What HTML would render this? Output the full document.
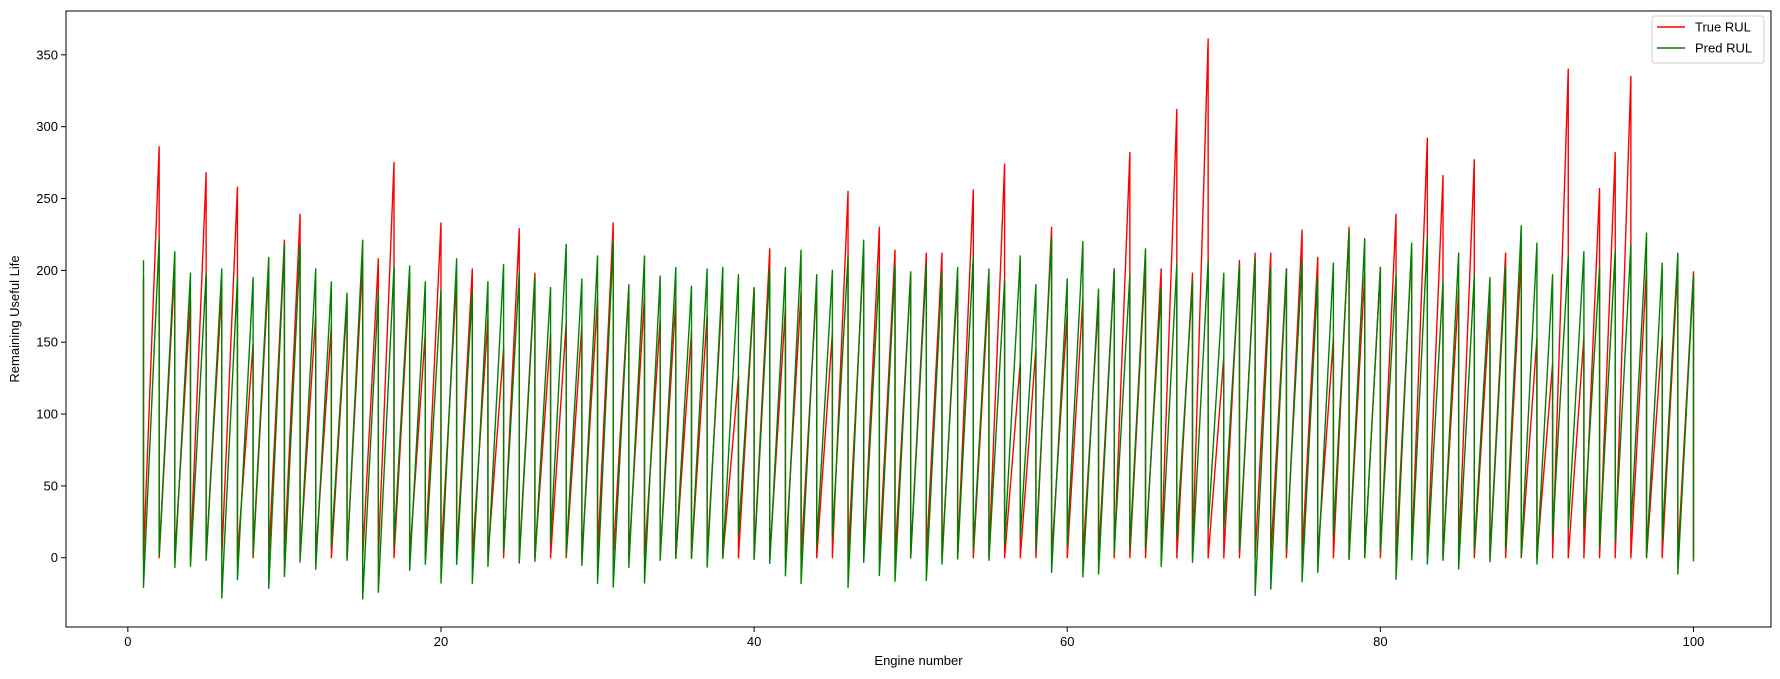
<!DOCTYPE html>
<html><head><meta charset="utf-8"><style>
body{margin:0;background:#fff;}
svg{display:block;font-family:"Liberation Sans","DejaVu Sans",sans-serif;}
</style></head><body>
<svg id="chart" width="1780" height="679"></svg>
<script>
const engines=[];for(let i=1;i<=100;i++)engines.push(i);
const trueMax=[195,286,203,179,268,187,258,149,201,221,239,169,162,179,206,208,275,194,157,233,
194,201,167,146,229,198,155,164,162,181,233,190,183,166,180,157,169,192,126,187,
215,174,185,190,157,255,213,230,214,197,212,212,194,256,192,274,136,146,230,171,
181,179,201,282,208,201,312,198,361,140,207,212,212,201,228,209,153,230,198,202,
239,215,292,266,187,277,177,212,211,153,135,340,154,257,282,335,201,155,205,199];
const predMax=[207,222,213,198,198,201,195,195,209,218,218,201,192,184,221,186,203,203,192,186,
208,185,192,204,199,195,188,218,194,210,220,189,210,196,202,189,201,202,197,188,
201,202,214,197,200,210,221,202,203,199,204,199,202,210,201,193,210,190,223,194,
220,187,201,197,215,187,205,192,207,198,204,208,201,201,207,195,205,227,222,202,
197,219,223,192,212,197,195,203,231,219,197,210,213,202,214,218,226,205,212,197];
const predMin=[-20.6,1.4,-6.7,-6,-1.8,-28,-15.3,2.6,-21.3,-13,-3,-8,7.6,-1.8,-28.7,-24,8.3,-8.8,-4.6,-17.6,
-4.6,-17.8,-6,4.4,-3.7,-2.5,10.7,2.6,-5.3,-17.8,-20.4,-6.7,-17.6,-1.8,-0.5,-0.5,-6.5,-0.5,15.3,-1.2,
-3.9,-12.5,-18,8.3,14.1,-20.6,-3.2,-12.3,-16.4,-0.2,-15.7,-4.4,-0.9,5.3,-1.8,9.5,14.1,6,-10.2,8.3,
-13.2,-11.3,3.7,6,6,-6,14.1,-3.2,20,20,5.3,-26.2,-21.8,6,-16.7,-10.2,15.3,-1.2,0.2,4.9,
-15,-1.4,-4.4,-1.8,-7.9,5.3,-2.8,6,0.7,-4.4,15,20,20,7.6,11.3,20,0.2,12.3,-11.3,-2.5];
const trueMin=engines.map(()=>0);
const xTicks=[0,20,40,60,80,100];
const yTicks=[0,50,100,150,200,250,300,350];

const L=66,R=1771,T=11,B=627;
const xmin=-3.95,xmax=104.95,ymin=-48.2,ymax=380.5;
const X=v=>L+(v-xmin)/(xmax-xmin)*(R-L);
const Y=v=>B-(v-ymin)/(ymax-ymin)*(B-T);
const NS="http://www.w3.org/2000/svg";
const svg=document.getElementById('chart');
function mk(tag,attrs,parent){const e=document.createElementNS(NS,tag);for(const k in attrs)e.setAttribute(k,attrs[k]);(parent||svg).appendChild(e);return e;}

function pathFor(maxA,minA){let d='';engines.forEach((e,i)=>{d+=(i?'L':'M')+X(e).toFixed(2)+','+Y(maxA[i]).toFixed(2)+'L'+X(e).toFixed(2)+','+Y(minA[i]).toFixed(2);});return d;}
const tp=mk('path',{d:pathFor(trueMax,trueMin),fill:'none',stroke:'#ff0000','stroke-width':1.4,'stroke-linejoin':'round'});


const pp=mk('path',{d:pathFor(predMax,predMin),fill:'none',stroke:'#008000','stroke-width':1.4,'stroke-linejoin':'round'});



const frame=mk('rect',{x:L,y:T,width:R-L,height:B-T,fill:'none',stroke:'#000','stroke-width':1});



xTicks.forEach(t=>{
  const x=X(t);
  const tk=mk('line',{x1:x,x2:x,y1:B,y2:B+5,stroke:'#000','stroke-width':1});
  
  
  const tx=mk('text',{x:x,y:B+19,'text-anchor':'middle','font-size':13,fill:'#000'});
  tx.textContent=t;
  
  
});
yTicks.forEach(t=>{
  const y=Y(t);
  const tk=mk('line',{x1:L-5,x2:L,y1:y,y2:y,stroke:'#000','stroke-width':1});
  
  
  const tx=mk('text',{x:L-8,y:y+4.5,'text-anchor':'end','font-size':13,fill:'#000'});
  tx.textContent=t;
  
  
});
const xl=mk('text',{x:(L+R)/2,y:665,'text-anchor':'middle','font-size':13,fill:'#000'});
xl.textContent='Engine number';


const yl=mk('text',{x:0,y:0,'text-anchor':'middle','font-size':13,fill:'#000',transform:'translate(19,'+((T+B)/2)+') rotate(-90)'});
yl.textContent='Remaining Useful Life';



const lg=mk('g',{});


mk('rect',{x:1652,y:16,width:112,height:47,rx:3,fill:'#fff',stroke:'#ccc','stroke-width':1},lg);
[['True RUL','#ff0000',27],['Pred RUL','#008000',48]].forEach(([n,c,y])=>{
  const g=mk('g',{},lg);
  
  
  mk('line',{x1:1657,x2:1685,y1:y,y2:y,stroke:c,'stroke-width':1.4},g);
  const t=mk('text',{x:1695,y:y+4.5,'font-size':13,fill:'#000'},g);
  t.textContent=n;
});
</script>
</body></html>
